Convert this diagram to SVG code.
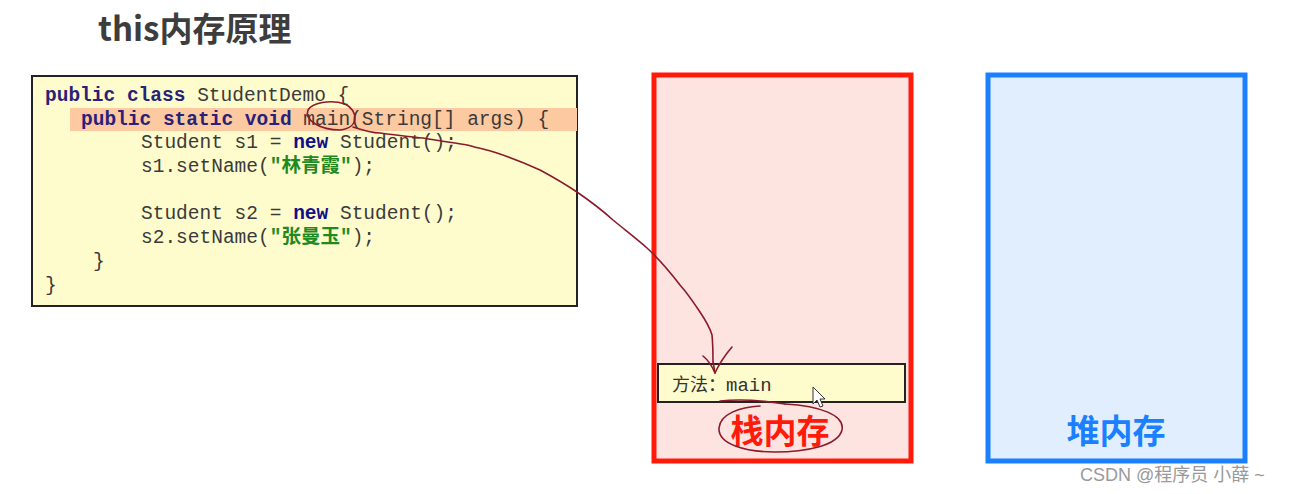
<svg xmlns="http://www.w3.org/2000/svg" width="1289" height="494" viewBox="0 0 1289 494">
<style>
.code{font-family:"Liberation Mono","Courier New",monospace;font-size:19.5px;fill:#3a3a3a;}
.kw{font-weight:bold;fill:#2a1f7a;}
.nw{font-weight:bold;fill:#10108a;}
.str{font-family:"Liberation Mono","Noto Sans CJK SC",monospace;font-weight:bold;fill:#1f8a1f;}
.cjk{font-family:"Noto Sans CJK SC","Noto Sans",sans-serif;}
.ink{fill:none;stroke:#8a1a2c;stroke-width:1.6;stroke-linecap:round;stroke-linejoin:round;}
</style>
<rect width="1289" height="494" fill="#ffffff"/>
<text x="98" y="41" class="cjk" font-size="33" font-weight="bold" fill="#3d3d3d">this内存原理</text>

<g id="code-box">
<rect x="32" y="76" width="545" height="230" fill="#fefccc" stroke="#222222" stroke-width="2"/>
<rect x="70" y="108" width="507" height="23" fill="#fdc9a0"/>
<text class="code" x="45" y="101"><tspan class="kw">public class</tspan> StudentDemo {</text>
<text class="code" x="81" y="125"><tspan class="kw">public static void</tspan> main(String[] args) {</text>
<text class="code" x="141" y="148">Student s1 = <tspan class="nw">new</tspan> Student();</text>
<text class="code" x="141" y="172">s1.setName(<tspan class="str">"林青霞"</tspan>);</text>
<text class="code" x="141" y="219">Student s2 = <tspan class="nw">new</tspan> Student();</text>
<text class="code" x="141" y="243">s2.setName(<tspan class="str">"张曼玉"</tspan>);</text>
<text class="code" x="93" y="267">}</text>
<text class="code" x="45" y="291">}</text>
</g>

<g id="stack">
<rect x="654" y="75" width="257" height="386" fill="#fde4e1" stroke="#ff1a0a" stroke-width="5"/>
<text x="780" y="443" text-anchor="middle" class="cjk" font-size="33" font-weight="bold" fill="#ff1a0a">栈内存</text>
</g>

<g id="method-main">
<rect x="658" y="364" width="247" height="38" fill="#fefccc" stroke="#222222" stroke-width="2"/>
<text x="672" y="391" font-size="18" fill="#333333"><tspan class="cjk">方法：</tspan><tspan font-family="Liberation Mono,monospace" font-size="19">main</tspan></text>
</g>

<g id="heap">
<rect x="988" y="75" width="257" height="386" fill="#e0eefe" stroke="#1a80ff" stroke-width="5"/>
<text x="1116" y="443" text-anchor="middle" class="cjk" font-size="33" font-weight="bold" fill="#1a80ff">堆内存</text>
</g>

<g id="connectors">
<path class="ink" d="M340,130 C360,128 358,110 345,104 C330,99 312,103 308,110 C304,120 320,130 340,130"/>
<path class="ink" d="M353,127 C365,131 372,133 380,133 C395,135 410,137 423,138 C440,141 455,143 467,145 C478,148 488,150 497,153 C512,158 527,164 540,170 C553,177 565,184 577,192 C590,201 602,210 613,220 C625,230 637,239 647,248 C660,260 670,272 680,285 C688,294 694,303 700,312 C706,321 710,328 712,335 C713,345 713,354 713,362 L715,373"/>
<path class="ink" d="M703,356 C708,360 712,366 715,373 C720,362 726,354 732,347"/>
<path class="ink" d="M720,401 C740,399 760,400 785,404"/>
<path class="ink" d="M785,404 C820,406 845,415 842,430 C838,446 805,452 775,452 C745,452 718,444 719,428 C720,414 740,407 760,406"/>
</g>

<g id="cursor">
<path d="M813,387 L813,404 L817,400 L820,407 L823,406 L820,399 L825,399 Z" fill="#ffffff" stroke="#333333" stroke-width="1"/>
</g>

<text x="1080" y="481" font-family="Liberation Sans,Noto Sans CJK SC,sans-serif" font-size="18" fill="#999999">CSDN @程序员 小薛 ~</text>
</svg>
